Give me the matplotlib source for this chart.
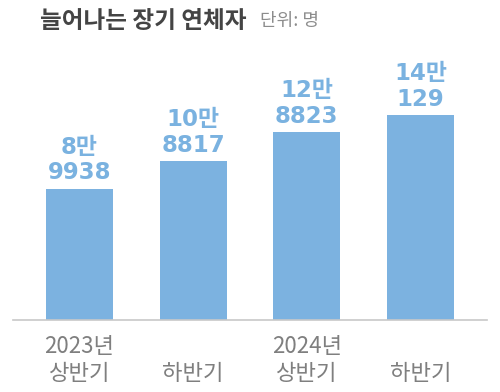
import numpy as np
import matplotlib.pyplot as plt

plt.rcParams['font.family'] = ['Noto Sans CJK KR', 'DejaVu Sans']

# 데이터
periods = ['2023년\n상반기', '\n하반기', '2024년\n상반기', '\n하반기']
values = [89938, 108817, 128823, 140129]
value_labels = ['8만\n9938', '10만\n8817', '12만\n8823', '14만\n129']

BAR_COLOR = '#7cb2e0'
LABEL_COLOR = '#7ab2e0'

fig = plt.figure(figsize=(5, 3.92), dpi=100)
ax = fig.add_axes([13 / 500, 72 / 392, 474 / 500, 260 / 392])

x = np.arange(len(values))
bars = ax.bar(x, values, width=0.59, color=BAR_COLOR)

for xi, v, lab in zip(x, values, value_labels):
    ax.annotate(lab, (xi, v), xytext=(0, 3), textcoords='offset points',
                ha='center', va='bottom', fontsize=16.5, fontweight='bold',
                color=LABEL_COLOR, linespacing=1.15,
                family=['DejaVu Sans', 'Noto Sans CJK KR'])

ax.set_xlim(-0.585, 3.585)
ax.set_ylim(0, 178000)
ax.set_xticks(x)
ax.set_xticklabels(periods, fontsize=16, color='#7f7f7f', linespacing=1.2)
ax.tick_params(axis='x', length=0, pad=11)
ax.set_yticks([])
for s in ['top', 'left', 'right']:
    ax.spines[s].set_visible(False)
ax.spines['bottom'].set_color('#c8c8c8')
ax.spines['bottom'].set_linewidth(1.2)

# 제목
fig.text(40 / 500, 1 - 21 / 392, '늘어나는 장기 연체자', fontsize=17, fontweight='bold',
         color='#444444', va='center', ha='left')
fig.text(260 / 500, 1 - 21 / 392, '단위: 명', fontsize=13, color='#8c8c8c',
         va='center', ha='left')

fig.savefig('out.png', dpi=100)
